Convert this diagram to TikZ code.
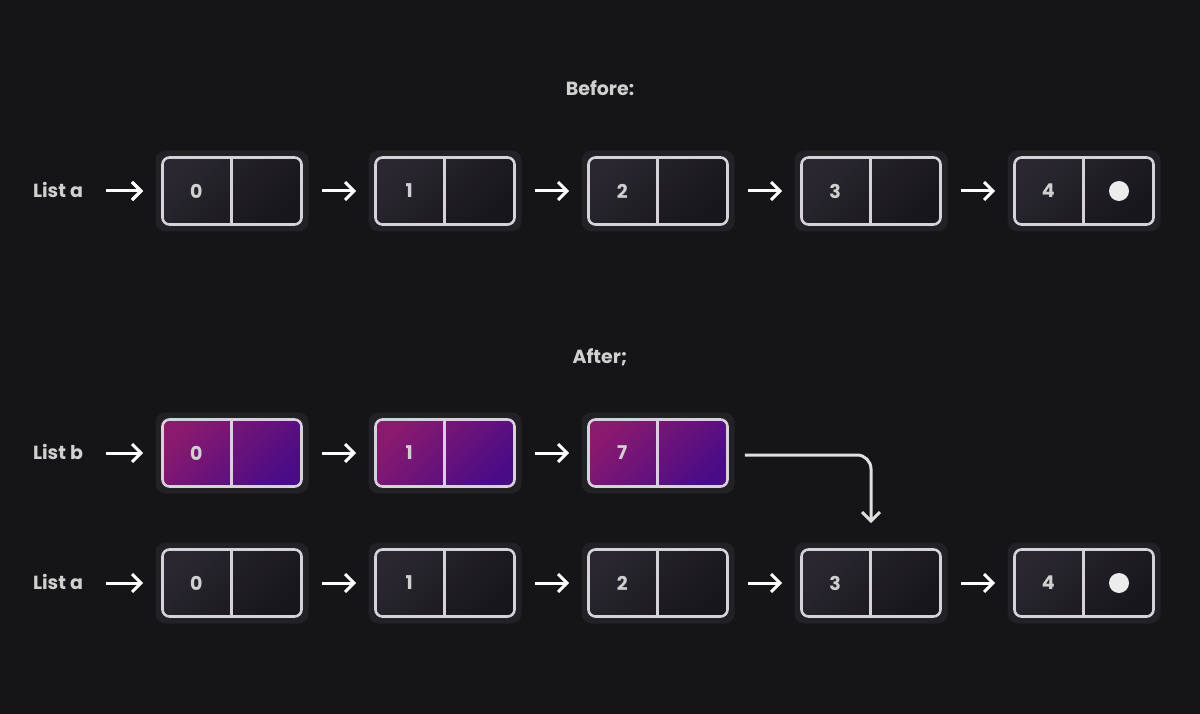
\documentclass[tikz,border=0pt]{standalone}
\usepackage{fontspec}
\setmainfont{Poppins}
\usetikzlibrary{arrows.meta}
\definecolor{bg}{HTML}{151517}
\definecolor{halo}{HTML}{222125}
\definecolor{cellA}{HTML}{2a2730}
\definecolor{cellB}{HTML}{17161a}
\definecolor{rim}{HTML}{d6d2da}
\definecolor{purA}{HTML}{8a1a6e}
\definecolor{purB}{HTML}{4a0c86}
\definecolor{txt}{HTML}{d0d0d0}
\tikzset{
  x=1pt,y=-1pt,
  halobox/.style={draw=none,fill=halo,rounded corners=10pt,minimum width=153pt,minimum height=81pt},
  plainbox/.style={draw=rim,line width=2.6pt,rounded corners=7pt,minimum width=139pt,minimum height=67pt,left color=cellA,right color=cellB,shading angle=45},
  purbox/.style={draw=rim,line width=2.6pt,rounded corners=7pt,minimum width=139pt,minimum height=67pt,left color=purA,right color=purB,shading angle=45},
  ptr/.style={draw=white,line width=3pt,-{Straight Barb[length=9pt,width=18pt]}},
  lbl/.style={text=txt,font=\bfseries\fontsize{19}{20}\selectfont},
  num/.style={text=txt,font=\bfseries\fontsize{19}{20}\selectfont},
  divider/.style={draw=rim,line width=2.6pt}
}
\newcommand{\mkcell}[5]{%
  \node[halobox] at (#2,#3) {};
  \node[#5] (#1) at (#2,#3) {};
  \draw[divider] ([xshift=70pt]#1.north west) -- ([xshift=70pt]#1.south west);
  \node[num] (#1t) at ([xshift=35pt]#1.west) {#4};
}
\begin{document}
\begin{tikzpicture}
\fill[bg] (0,0) rectangle (1200,714);
\useasboundingbox (0,0) rectangle (1200,714);
\node[lbl] (bt) at (600,88) {Before:};
\node[lbl] (at) at (600,357) {After;};
% before row
\node[lbl] (la1) at (58,190) {List a};
\mkcell{a0}{232}{191}{0}{plainbox}
\mkcell{a1}{445}{191}{1}{plainbox}
\mkcell{a2}{658}{191}{2}{plainbox}
\mkcell{a3}{871}{191}{3}{plainbox}
\mkcell{a4}{1084}{191}{4}{plainbox}
\fill[white!85!gray] (1119,191) circle (10pt);
\draw[ptr] ([xshift=-36pt]a0.west) -- ([xshift=-18pt]a0.west);
\draw[ptr] ([xshift=-55pt]a0.west) -- ([xshift=-18pt]a0.west);
\draw[ptr] ([xshift=19pt]a0.east) -- ([xshift=-18pt]a1.west);
\draw[ptr] ([xshift=19pt]a1.east) -- ([xshift=-18pt]a2.west);
\draw[ptr] ([xshift=19pt]a2.east) -- ([xshift=-18pt]a3.west);
\draw[ptr] ([xshift=19pt]a3.east) -- ([xshift=-18pt]a4.west);
% list b
\node[lbl] (lb) at (58,452) {List b};
\mkcell{b0}{232}{453}{0}{purbox}
\mkcell{b1}{445}{453}{1}{purbox}
\mkcell{b2}{658}{453}{7}{purbox}
\draw[ptr] ([xshift=-55pt]b0.west) -- ([xshift=-18pt]b0.west);
\draw[ptr] ([xshift=19pt]b0.east) -- ([xshift=-18pt]b1.west);
\draw[ptr] ([xshift=19pt]b1.east) -- ([xshift=-18pt]b2.west);
% bottom list a
\node[lbl] (la2) at (58,582) {List a};
\mkcell{c0}{232}{583}{0}{plainbox}
\mkcell{c1}{445}{583}{1}{plainbox}
\mkcell{c2}{658}{583}{2}{plainbox}
\mkcell{c3}{871}{583}{3}{plainbox}
\mkcell{c4}{1084}{583}{4}{plainbox}
\fill[white!85!gray] (1119,583) circle (10pt);
\draw[ptr] ([xshift=-55pt]c0.west) -- ([xshift=-18pt]c0.west);
\draw[ptr] ([xshift=19pt]c0.east) -- ([xshift=-18pt]c1.west);
\draw[ptr] ([xshift=19pt]c1.east) -- ([xshift=-18pt]c2.west);
\draw[ptr] ([xshift=19pt]c2.east) -- ([xshift=-18pt]c3.west);
\draw[ptr] ([xshift=19pt]c3.east) -- ([xshift=-18pt]c4.west);
\draw[ptr,draw=white!75!gray,rounded corners=14pt] ([xshift=16pt,yshift=-2pt]b2.east) -| ([yshift=25pt]c3.north);
\end{tikzpicture}
\end{document}
